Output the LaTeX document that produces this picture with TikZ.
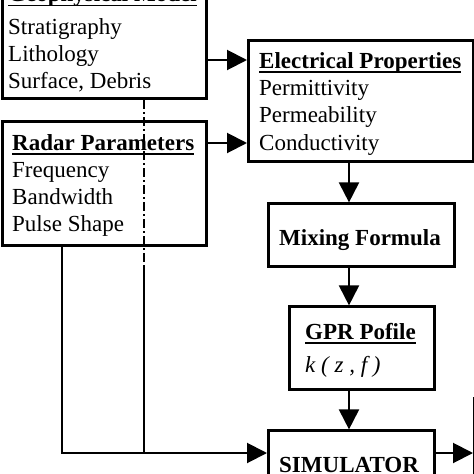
\documentclass[tikz,border=0pt]{standalone}
\usepackage{fontspec}
\setmainfont{Liberation Serif}
\usetikzlibrary{arrows.meta}
\tikzset{
  box/.style={draw, line width=2.6pt, inner sep=0pt, anchor=south west},
  txt/.style={inner sep=0pt, anchor=base west, font=\fontsize{23}{27}\selectfont},
  ttl/.style={txt, font=\fontsize{23}{27}\selectfont\bfseries},
  conn/.style={line width=2pt},
  arr/.style={conn, -{Triangle[length=20pt,width=20pt]}},
  dashdot/.style={conn, dash pattern=on 9pt off 3pt on 2pt off 3pt},
  uline/.style={line width=1.3pt}
}
\begin{document}
\begin{tikzpicture}[x=1pt,y=-1pt]
\useasboundingbox (0,0) rectangle (474,474);
\clip (0,0) rectangle (474,474);
% boxes
\node[box, minimum width=204pt, minimum height=140pt] (geo) at (1,100) {};
\node[box, minimum width=204pt, minimum height=124pt] (radar) at (1,247) {};
\node[box, minimum width=225pt, minimum height=121pt] (elec) at (247,163) {};
\node[box, minimum width=186pt, minimum height=63pt] (mix) at (267,268) {};
\node[box, minimum width=145pt, minimum height=83pt] (gpr) at (288,391) {};
\node[box, minimum width=166pt, minimum height=80pt] (sim) at (267,512) {};
\node[box, minimum width=60pt, minimum height=120pt] (out) at (473,520) {};
% texts
\node[ttl] (geot) at (8,1.5) {Geophysical Model};
\node[txt] (geo1) at (8,34) {Stratigraphy};
\node[txt] (geo2) at (8,61) {Lithology};
\node[txt] (geo3) at (8,88) {Surface, Debris};
\node[ttl] (radt) at (12,150) {Radar Parameters};
\node[txt] (rad1) at (12,177) {Frequency};
\node[txt] (rad2) at (12,204) {Bandwidth};
\node[txt] (rad3) at (12,231) {Pulse Shape};
\node[ttl] (elet) at (259,68) {Electrical Properties};
\node[txt] (ele1) at (259,95) {Permittivity};
\node[txt] (ele2) at (259,122) {Permeability};
\node[txt] (ele3) at (259,150) {Conductivity};
\node[ttl, anchor=base] (mixt) at (360,245) {Mixing Formula};
\node[ttl] (gprt) at (305,339) {GPR Pofile};
\node[txt] (gpr1) at (305,372) {\itshape k ( z , f )};
\node[ttl] (simt) at (279,472) {SIMULATOR};
% underlines
\foreach \t in {geot,radt,elet,gprt}
  \draw[uline] ([yshift=-4pt]\t.base west) -- ([yshift=-4pt]\t.base east);
% connectors
\draw[arr] (geo.east |- 0,60) -- (elec.west |- 0,60);
\draw[arr] (radar.east |- 0,143) -- (elec.west |- 0,143);
\draw[arr] (elec.south -| 349,0) -- (mix.north -| 349,0);
\draw[arr] (mix.south -| 349,0) -- (gpr.north -| 349,0);
\draw[arr] (gpr.south -| 349,0) -- (sim.north -| 349,0);
\coordinate (jl) at (62,453);
\coordinate (jd) at (144,453);
\coordinate (ds) at (144,265);
\draw[conn] (radar.south -| jl) -- (jl) -- (jd);
\draw[dashdot] (geo.south -| ds) -- (ds);
\draw[conn] (ds) -- (jd);
\draw[arr] (jd) -- (sim.west |- jd);
\draw[arr] (sim.east |- jd) -- (out.west |- jd);
\end{tikzpicture}
\end{document}
